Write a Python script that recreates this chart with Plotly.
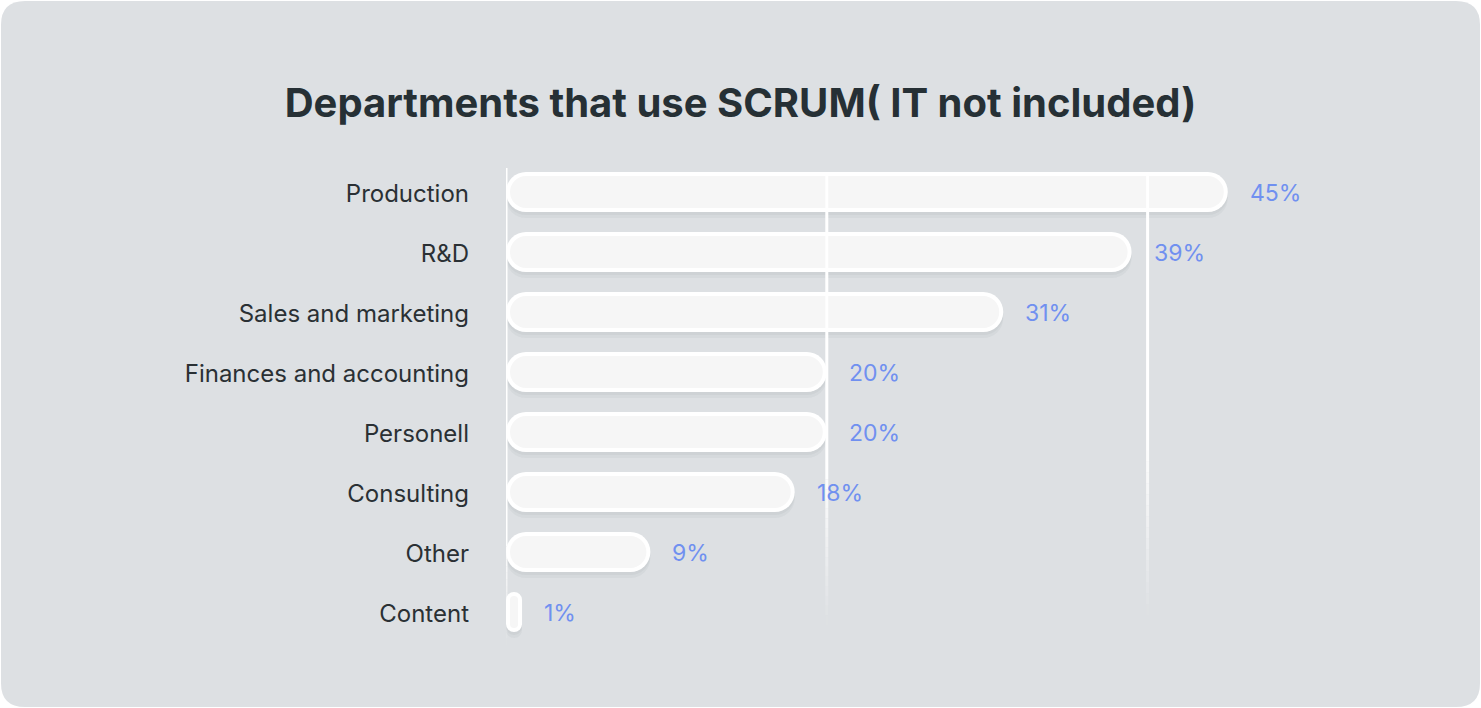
import plotly.graph_objects as go

# ---------------- data ----------------
categories = ["Production", "R&D", "Sales and marketing", "Finances and accounting",
              "Personell", "Consulting", "Other", "Content"]
values = [45, 39, 31, 20, 20, 18, 9, 1]
value_labels = ["45%", "39%", "31%", "20%", "20%", "18%", "9%", "1%"]
grid_vals = [0, 20, 40]
title_text = "Departments that use SCRUM( IT not included)"

# ---------------- layout constants ----------------
W_FIG, H_FIG = 1481, 708
M_L, M_R, M_T, M_B = 506, 20, 162, 66
PLOT_W = W_FIG - M_L - M_R
PLOT_H = H_FIG - M_T - M_B
PX_PER_UNIT = 16.04
X_MAX = PLOT_W / PX_PER_UNIT
ROW_PX = PLOT_H / len(categories)

OUTER_W = 40 / ROW_PX
INNER_W = 32 / ROW_PX
INSET = 4 / PX_PER_UNIT

CARD = "#dde0e3"
FILL = "#f6f6f6"
LABEL_BLUE = "#7090f0"
TEXT_DARK = "#2a3034"
FONT = "Inter"

fig = go.Figure()


def add_pill(color, width, inset, offset_px=0.0):
    kw = {}
    if offset_px:
        kw["offset"] = -width / 2 + offset_px / ROW_PX
    fig.add_trace(go.Bar(
        y=categories, x=[v - 2 * inset for v in values], base=[inset] * len(values),
        orientation="h", width=width,
        marker=dict(color=color, line=dict(width=0), cornerradius="50%"),
        hoverinfo="skip", showlegend=False, **kw))


# soft shadow
add_pill("rgba(80,90,100,0.05)", OUTER_W, 0, offset_px=6)
add_pill("rgba(80,90,100,0.05)", OUTER_W, 0, offset_px=3)
# white outline pill
add_pill("#ffffff", OUTER_W, 0)
# inner fill pill
add_pill(FILL, INNER_W, INSET)

# value labels
for cat, v, lab in zip(categories, values, value_labels):
    fig.add_annotation(x=v, y=cat, text=lab, showarrow=False, xanchor="left", yanchor="middle",
                       xshift=20, yshift=-1, font=dict(family=FONT, size=23, color=LABEL_BLUE))

# ---------------- shapes ----------------
def px_to_paper_x(px):
    return (px - M_L) / PLOT_W


def px_to_paper_y(py):
    return 1 - (py - M_T) / PLOT_H


shapes = []
# card with rounded corners
x0p, x1p, y0p, y1p, r = 1, 1480, 1, 707, 24
def P(px, py):
    return f"{px_to_paper_x(px):.5f},{px_to_paper_y(py):.5f}"
path = (f"M {P(x0p + r, y0p)} L {P(x1p - r, y0p)} Q {P(x1p, y0p)} {P(x1p, y0p + r)} "
        f"L {P(x1p, y1p - r)} Q {P(x1p, y1p)} {P(x1p - r, y1p)} "
        f"L {P(x0p + r, y1p)} Q {P(x0p, y1p)} {P(x0p, y1p - r)} "
        f"L {P(x0p, y0p + r)} Q {P(x0p, y0p)} {P(x0p + r, y0p)} Z")
shapes.append(dict(type="path", path=path, xref="paper", yref="paper",
                   fillcolor=CARD, line=dict(width=0), layer="below"))

# fading vertical grid lines
grid_extent = {0: (168, 540, 645), 20: (174, 470, 625), 40: (172, 440, 615)}
for gv in grid_vals:
    top, fade_start, bottom = grid_extent[gv]
    shapes.append(dict(type="line", xref="x", yref="paper", x0=gv, x1=gv,
                       y0=px_to_paper_y(top), y1=px_to_paper_y(fade_start),
                       line=dict(color="white", width=3), layer="above"))
    n = 16
    for k in range(n):
        a = fade_start + (bottom - fade_start) * k / n
        b = fade_start + (bottom - fade_start) * (k + 1) / n
        op = 1 - (k + 0.5) / n
        shapes.append(dict(type="line", xref="x", yref="paper", x0=gv, x1=gv,
                           y0=px_to_paper_y(a), y1=px_to_paper_y(b), opacity=op,
                           line=dict(color="white", width=3), layer="above"))

fig.update_layout(
    width=W_FIG, height=H_FIG,
    margin=dict(l=M_L, r=M_R, t=M_T, b=M_B, pad=0),
    paper_bgcolor="white", plot_bgcolor="rgba(0,0,0,0)",
    barmode="overlay",
    shapes=shapes,
    title=dict(text=title_text, x=0.5, xref="container", xanchor="center",
               y=1 - 103 / H_FIG, yref="container", yanchor="middle",
               font=dict(family=FONT, size=40, color="#263035", weight=700)),
    xaxis=dict(range=[0, X_MAX], showgrid=False, zeroline=False, showticklabels=False,
               showline=False, fixedrange=True),
    yaxis=dict(categoryorder="array", categoryarray=categories, range=[len(categories) - 0.5, -0.5],
               showgrid=False, zeroline=False, showline=False, ticks="",
               ticklabelstandoff=36, ticklabelshift=-2,
               tickfont=dict(family=FONT, size=24, color=TEXT_DARK), fixedrange=True),
    font=dict(family=FONT),
    showlegend=False,
)

fig.write_html("out.html", config={"displayModeBar": False},
               post_script="document.body.style.margin='0';document.body.style.overflow='hidden';")
